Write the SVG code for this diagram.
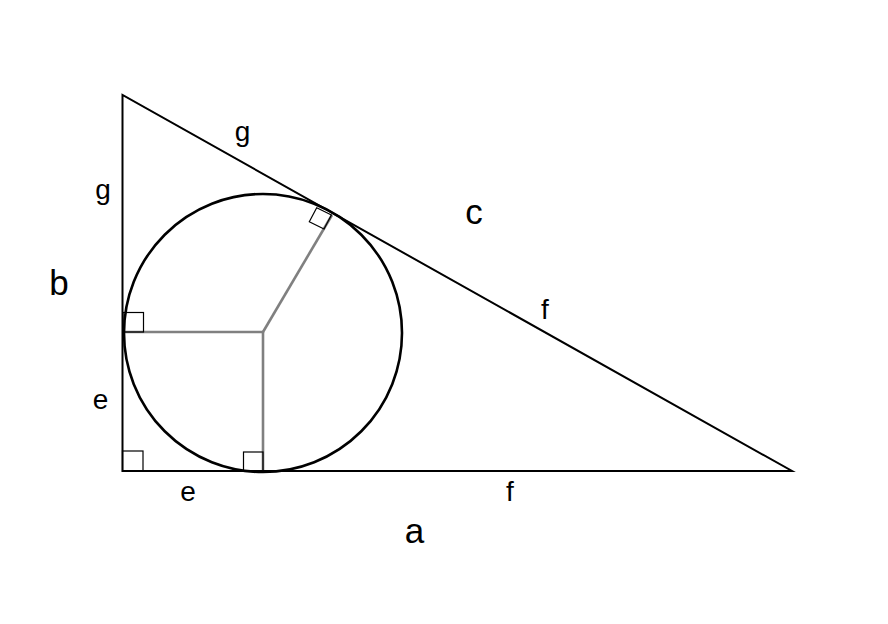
<svg xmlns="http://www.w3.org/2000/svg" width="888" height="624" viewBox="0 0 888 624">
<style>
.edge{fill:none;stroke:#000;stroke-width:2}
.circ{fill:none;stroke:#000;stroke-width:2.6}
.rad{fill:none;stroke:#808080;stroke-width:2.6}
.mark{fill:none;stroke:#000;stroke-width:1.2}
.sm{font-family:"Liberation Sans",Arial,sans-serif;font-size:28px;fill:#000;text-anchor:middle}
.lg{font-family:"Liberation Sans",Arial,sans-serif;font-size:35px;fill:#000;text-anchor:middle}
</style>
<rect width="888" height="624" fill="#fff"/>
<g id="radii">
<line class="rad" x1="123" y1="332" x2="263" y2="332"/>
<line class="rad" x1="263" y1="332" x2="263" y2="471"/>
<line class="rad" x1="263" y1="332" x2="332" y2="215"/>
</g>
<g id="right-angle-marks">
<rect class="mark" x="123" y="312.5" width="20.5" height="19.5"/>
<rect class="mark" x="122.5" y="451" width="20.5" height="20"/>
<rect class="mark" x="243.5" y="452" width="19.5" height="19"/>
<polygon class="mark" points="316.7,207.7 309.3,221.7 324,229 331.4,215"/>
</g>
<g id="incircle">
<circle class="circ" cx="263" cy="333" r="139"/>
</g>
<g id="triangle">
<polygon class="edge" points="122.5,95 122.5,471 792,471"/>
</g>
<g id="labels">
<text class="sm" x="103" y="199">g</text>
<text class="sm" x="242.5" y="141">g</text>
<text class="lg" x="59" y="295">b</text>
<text class="lg" x="474" y="224">c</text>
<text class="sm" x="545" y="319">f</text>
<text class="sm" x="100.5" y="409">e</text>
<text class="sm" x="188" y="501">e</text>
<text class="sm" x="510" y="501">f</text>
<text class="lg" x="414.5" y="543">a</text>
</g>
</svg>
